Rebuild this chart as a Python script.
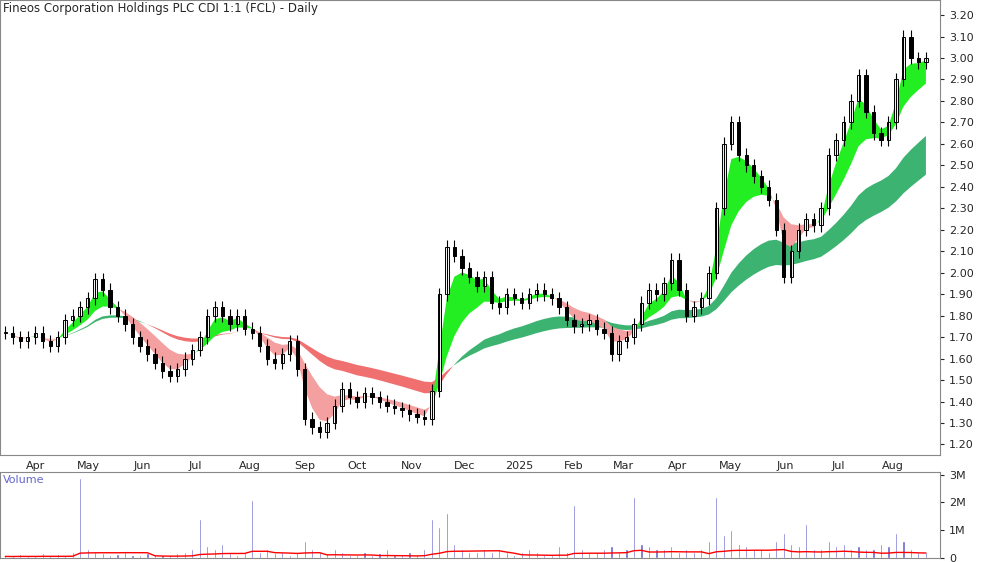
import numpy as np, pandas as pd, matplotlib
matplotlib.use("Agg")
import matplotlib.pyplot as plt, seaborn as sns
import matplotlib.dates as mdates

closes = [1.72,1.70,1.68,1.70,1.72,1.68,1.66,1.70,1.78,1.80,
 1.84,1.88,1.97,1.92,1.84,1.80,1.76,1.70,1.66,1.62,1.58,
 1.54,1.52,1.55,1.60,1.64,1.70,1.80,1.84,1.80,1.76,1.80,1.74,1.72,
 1.66,1.60,1.58,1.62,1.68,1.55,1.32,1.28,1.26,1.30,1.38,1.46,1.42,1.40,
 1.44,1.42,1.40,1.38,1.37,1.36,1.34,1.33,1.32,1.45,1.90,2.12,2.08,2.02,1.98,
 1.94,1.98,1.86,1.84,1.90,1.88,1.86,1.90,1.92,1.90,1.88,1.84,
 1.78,1.75,1.76,1.78,1.74,1.72,1.62,1.68,1.70,1.76,1.86,1.92,1.90,
 1.95,2.06,1.92,1.80,1.84,1.88,2.00,2.30,2.60,2.70,2.55,2.50,2.45,2.40,
 2.34,2.20,1.98,2.10,2.20,2.25,2.22,2.30,2.55,2.62,2.70,2.80,2.92,2.75,
 2.65,2.62,2.70,2.90,3.10,3.00,2.98,3.00]
volumes = [0.1,0.08,0.12,0.1,0.09,0.15,0.1,0.12,0.1,0.2,
 2.9,0.3,0.2,0.15,0.1,0.12,0.2,0.1,0.1,0.15,0.12,
 0.1,0.1,0.15,0.2,0.3,1.4,0.4,0.3,0.5,0.2,0.1,0.15,2.1,
 0.2,0.3,0.15,0.2,0.1,0.2,0.6,0.3,0.2,0.15,0.3,0.2,0.1,0.1,
 0.2,0.1,0.15,0.3,0.1,0.1,0.2,0.1,0.3,1.4,1.1,1.6,0.5,0.3,0.2,
 0.2,0.3,0.2,0.3,0.2,0.1,0.2,0.3,0.2,0.1,0.1,0.4,
 0.2,1.9,0.3,0.2,0.2,0.3,0.4,0.2,0.3,2.2,0.5,0.4,0.3,
 0.3,0.4,0.2,0.3,0.2,0.3,0.6,2.2,0.8,1.0,0.5,0.4,0.3,0.3,
 0.2,0.6,0.9,0.5,0.4,1.2,0.3,0.3,0.6,0.4,0.5,0.3,0.4,0.3,
 0.3,0.5,0.4,0.9,0.6,0.3,0.2,0.2]

n = len(closes)
dates = pd.to_datetime(np.linspace(pd.Timestamp("2024-03-15").value, pd.Timestamp("2025-08-20").value, n))
c = pd.Series(closes)
o = c.shift(1).fillna(c.iloc[0])
hi = np.maximum(o, c) + 0.03
lo = np.minimum(o, c) - 0.03
e1, e2 = c.ewm(span=3).mean(), c.ewm(span=9).mean()
e3, e4 = c.ewm(span=24).mean(), c.ewm(span=40).mean()
vma = pd.Series(volumes).rolling(10, min_periods=1).mean() * 0.4

sns.set_style("white")
fig = plt.figure(figsize=(10, 5.62), dpi=100)
ax = fig.add_axes([0.0, 0.19, 0.94, 0.81])
av = fig.add_axes([0.0, 0.008, 0.94, 0.152])
x = mdates.date2num(dates)
ax.fill_between(x, e3, e4, where=e3 >= e4, color="#3cb371", interpolate=True, lw=0)
ax.fill_between(x, e3, e4, where=e3 < e4, color="#f07070", interpolate=True, lw=0)
ax.fill_between(x, e1, e2, where=e1 >= e2, color="#22ee22", interpolate=True, lw=0)
ax.fill_between(x, e1, e2, where=e1 < e2, color="#f4a0a0", interpolate=True, lw=0)
w = (x[1] - x[0]) * 0.45
for xi, oi, ci, h, l in zip(x, o, c, hi, lo):
    ax.vlines(xi, l, h, color="black", lw=0.8)
    ax.add_patch(plt.Rectangle((xi - w/2, min(oi, ci)), w, max(abs(ci - oi), 0.004),
                 facecolor="white" if ci >= oi else "black", edgecolor="black", lw=0.7))
ax.set_ylim(1.15, 3.27)
ax.set_xlim(x[0] - 3, x[-1] + 8)
ax.yaxis.tick_right()
ax.set_yticks(np.round(np.arange(1.2, 3.21, 0.1), 2))
ax.set_yticklabels([f"{v:.2f}" for v in np.arange(1.2, 3.21, 0.1)], fontsize=8)
months = pd.date_range("2024-04-01", "2025-08-01", freq="MS")
ax.set_xticks(mdates.date2num(months))
ax.set_xticklabels(["2025" if m.month == 1 else m.strftime("%b") for m in months], fontsize=8)
ax.tick_params(axis="x", pad=1)
ax.text(0.003, 0.995, "Fineos Corporation Holdings PLC CDI 1:1 (FCL) - Daily", transform=ax.transAxes,
        va="top", fontsize=8.5)
for a in (ax, av):
    for s in a.spines.values():
        s.set_color("#888888")
    a.tick_params(length=3)
av.bar(x, volumes, width=1.2, color="#6666cc")
av.plot(x, vma, color="red", lw=1)
av.set_xlim(ax.get_xlim())
av.set_ylim(0, 3.1)
av.yaxis.tick_right()
av.set_yticks([0, 1, 2, 3]); av.set_yticklabels(["0", "1M", "2M", "3M"], fontsize=8)
av.set_xticks([])
av.text(0.003, 0.96, "Volume", transform=av.transAxes, va="top", fontsize=8, color="#6666cc")
fig.savefig("out.png", dpi=100)
